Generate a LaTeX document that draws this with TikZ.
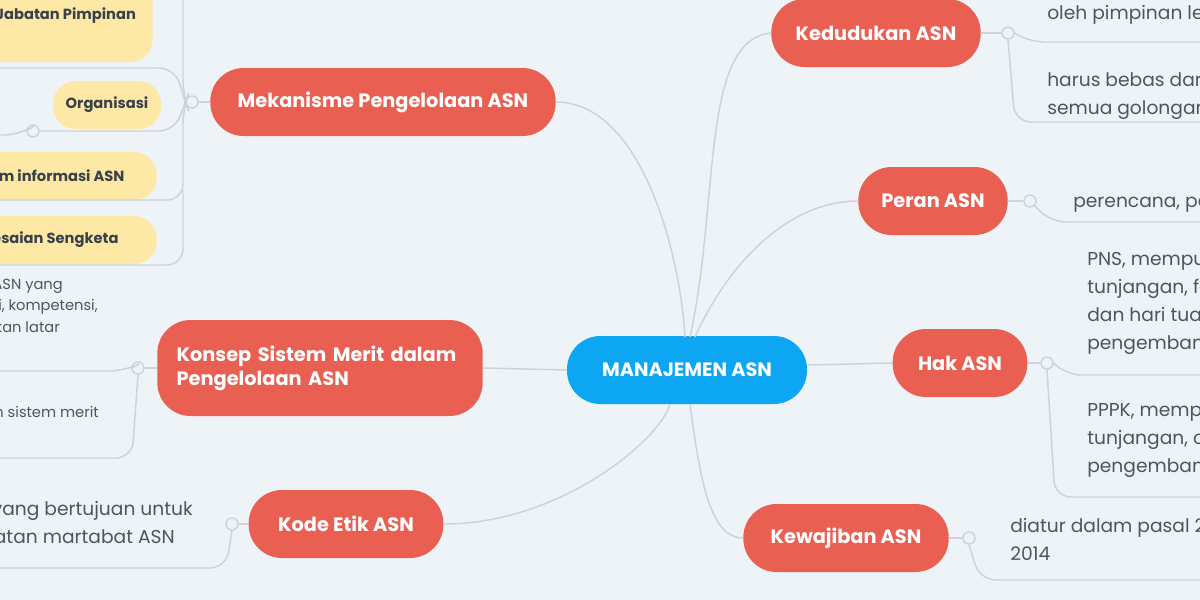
\documentclass[tikz,border=0pt]{standalone}
\usepackage{fontspec}
\setmainfont{Poppins}
\definecolor{bg}{HTML}{EEF3F8}
\definecolor{red}{HTML}{E95F52}
\definecolor{blu}{HTML}{0CA6F2}
\definecolor{yel}{HTML}{FDE8A6}
\definecolor{ln}{HTML}{CDD3D9}
\definecolor{tx}{HTML}{4D5660}
\definecolor{ytx}{HTML}{3A414B}
\begin{document}
\begin{tikzpicture}[x=0.75pt,y=-0.75pt,
  main/.style={rounded corners=25pt,fill=red,text=white,font=\fontsize{14.5}{18}\selectfont\bfseries,inner sep=0pt,align=left},
  cen/.style={rounded corners=25pt,fill=blu,text=white,font=\fontsize{14.5}{18}\selectfont\bfseries,inner sep=0pt},
  sub/.style={rounded corners=17pt,fill=yel,text=ytx,font=\fontsize{11}{14}\selectfont\bfseries,inner sep=0pt},
  plain/.style={text=tx,font=\fontsize{14}{21}\selectfont,inner sep=0pt,align=left},
  small/.style={text=tx,font=\fontsize{11}{16.5}\selectfont,inner sep=0pt},
  con/.style={draw=ln,line width=1.1pt,rounded corners=12pt},
  dot/.style={circle,draw=ln,line width=1.1pt,fill=bg,minimum size=9pt,inner sep=0pt}]
\path[fill=bg,use as bounding box] (0,0) rectangle (1200,600);
\clip (0,0) rectangle (1200,600);
% nodes
\node[cen,minimum width=180pt,minimum height=51pt] (c) at (687,370) {MANAJEMEN ASN};
\node[main,minimum width=157pt,minimum height=51pt] (ked) at (876,33) {Kedudukan ASN};
\node[main,minimum width=112pt,minimum height=51pt] (per) at (933,201) {Peran ASN};
\node[main,minimum width=101pt,minimum height=51pt] (hak) at (960,363) {Hak ASN};
\node[main,minimum width=154pt,minimum height=51pt] (kew) at (846,538) {Kewajiban ASN};
\node[main,minimum width=259pt,minimum height=51pt] (mek) at (383,102) {Mekanisme Pengelolaan ASN};
\node[main,minimum width=244pt,minimum height=72pt,text width=215pt] (kon) at (320,368) {Konsep Sistem Merit dalam\\Pengelolaan ASN};
\node[main,minimum width=146pt,minimum height=51pt] (kod) at (346,524) {Kode Etik ASN};
% yellow
\node[sub,minimum width=180pt,minimum height=60pt,anchor=east] (jab) at (153,22) {\raisebox{12pt}{Pemilihan Jabatan Pimpinan\hspace{10pt}}};
\node[sub,minimum width=81pt,minimum height=36pt] (org) at (107,105) {Organisasi};
\node[sub,minimum width=170pt,minimum height=36pt,anchor=east] (sis) at (157,176) {Sistem informasi ASN\hspace{10pt}};
\node[sub,minimum width=190pt,minimum height=36pt,anchor=east] (sen) at (157,240) {Penyelesaian Sengketa\hspace{10pt}};
% dots
\node[dot] (dm) at (192,102) {};
\node[dot] (do) at (33,131) {};
\node[dot] (dk) at (138,368) {};
\node[dot] (de) at (232,524) {};
\node[dot] (dked) at (1008,33) {};
\node[dot] (dper) at (1030,201) {};
\node[dot] (dhak) at (1047,363) {};
\node[dot] (dkew) at (969,538) {};
% texts
\node[plain,anchor=west] (t1) at (1047,15) {oleh pimpinan lembaga negara};
\node[plain,anchor=west] (t2) at (1047,96) {harus bebas dari pengaruh dan\\semua golongan dan partai politik};
\node[plain,anchor=west] (t3) at (1073,203) {perencana, pelaksana, pengawas};
\node[plain,anchor=west] (t4) at (1087,303) {PNS, mempunyai hak gaji,\\tunjangan, fasilitas, cuti, jaminan\\dan hari tua, perlindungan dan\\pengembangan kompetensi};
\node[plain,anchor=west] (t5) at (1087,440) {PPPK, mempunyai hak gaji,\\tunjangan, cuti, perlindungan dan\\pengembangan kompetensi};
\node[plain,anchor=west] (t6) at (1010,539) {diatur dalam pasal 23 UU No. 5 Tahun\\2014};
\node[small,anchor=east] (t7a) at (63,286) {manajemen ASN yang};
\node[small,anchor=east] (t7b) at (98,307) {kualifikasi, kompetensi,};
\node[small,anchor=east] (t7c) at (60,329) {tanpa membedakan latar};
\node[small,anchor=east] (t8) at (99,414) {Pengelolaan ASN dengan sistem merit};
\node[plain,anchor=east] (t9a) at (193,511) {kode etik yang bertujuan untuk};
\node[plain,anchor=east] (t9b) at (175,539) {menjaga kehormatan martabat ASN};
% center connectors
\draw[con] (690,337) .. controls (720,200) and (700,40) .. (ked.west);
\draw[con] (695,337) .. controls (730,260) and (790,201) .. (per.west);
\draw[con] (808,365) -- (hak.west);
\draw[con] (690,404) .. controls (700,480) and (710,538) .. (kew.west);
\draw[con] (mek.east) .. controls (640,102) and (680,250) .. (685,337);
\draw[con] (kon.east) -- (c.west);
\draw[con] (kod.east) .. controls (560,524) and (660,440) .. (670,404);
% sub connectors
\draw[con] (mek.west) -- (dm);
\draw[con] (dm.west) -- (183,96) -- (183,0);
\draw[con] (dm.west) -- (175,68) -- (0,68);
\draw[con] (dm.west) -- (175,131) -- (do.east);
\draw[con] (do.west) -- (20,135) -- (0,135);
\draw[con] (dm.west) -- (183,108) -- (183,200) -- (0,200);
\draw[con] (183,190) -- (183,265) -- (0,265);
\draw[con] (kon.west) -- (dk);
\draw[con] (dk.west) -- (125,371) -- (0,371);
\draw[con] (dk.south) -- (132,458) -- (0,458);
\draw[con] (kod.west) -- (de);
\draw[con] (de.south) -- (226,568) -- (0,568);
\draw[con] (ked.east) -- (dked);
\draw[con] (dked.east) -- (1028,42) -- (1200,42);
\draw[con] (dked.south) -- (1015,122) -- (1200,122);
\draw[con] (per.east) -- (dper);
\draw[con] (dper.south east) -- (1050,222) -- (1200,222);
\draw[con] (hak.east) -- (dhak);
\draw[con] (dhak.east) -- (1065,375) -- (1200,375);
\draw[con] (dhak.south) -- (1055,497) -- (1200,497);
\draw[con] (kew.east) -- (dkew);
\draw[con] (dkew.south) -- (980,580) -- (1200,580);
\end{tikzpicture}
\end{document}
